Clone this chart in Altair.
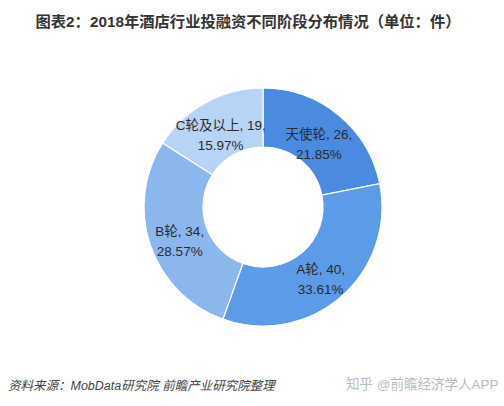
import altair as alt
import pandas as pd

categories = ["天使轮", "A轮", "B轮", "C轮及以上"]
values = [26, 40, 34, 19]
percents = ["21.85%", "33.61%", "28.57%", "15.97%"]
colors = ["#4a8ae0", "#5c9be7", "#8bb6ee", "#b7d3f5"]

df = pd.DataFrame({
    "cat": categories,
    "val": values,
    "order": list(range(len(categories))),
    "label": [[f"{c}, {v},", p] for c, v, p in zip(categories, values, percents)],
})

FONT = "Liberation Sans, Noto Sans CJK SC, sans-serif"
CX, CY = 263, 207

base = alt.Chart(df).encode(
    theta=alt.Theta("val:Q", stack=True),
    order=alt.Order("order:Q"),
)

arcs = base.mark_arc(outerRadius=119, innerRadius=60, stroke="white", strokeWidth=1.2).encode(
    color=alt.Color("cat:N", scale=alt.Scale(domain=categories, range=colors), legend=None),
    x=alt.value(CX), y=alt.value(CY),
)

labels = base.mark_text(radius=88, dy=-4, font=FONT, fontSize=13.5, color="#2b2b2b", lineHeight=20).encode(
    text="label",
    x=alt.value(CX), y=alt.value(CY),
)

title = alt.Chart(pd.DataFrame({"t": ["图表2：2018年酒店行业投融资不同阶段分布情况（单位：件）"]})).mark_text(
    font=FONT, fontSize=15.3, fontWeight="bold", color="#333333", align="center", baseline="middle"
).encode(text="t:N", x=alt.value(248), y=alt.value(22))

footer = alt.Chart(pd.DataFrame({"t": ["资料来源：MobData研究院  前瞻产业研究院整理"]})).mark_text(
    font=FONT, fontSize=12.5, fontStyle="italic", color="#444444", align="left", baseline="middle"
).encode(text="t:N", x=alt.value(8), y=alt.value(386))

mark = alt.Chart(pd.DataFrame({"t": ["知乎 @前瞻经济学人APP"]})).mark_text(
    font=FONT, fontSize=13.5, color="#bbbbbb", align="left", baseline="middle"
).encode(text="t:N", x=alt.value(346), y=alt.value(385))

chart = alt.layer(arcs, labels, title, footer, mark).properties(
    width=504, height=406,
    autosize=alt.AutoSizeParams(type="none"),
    padding=0,
    background="white",
).configure_view(stroke=None)

chart.save("out.html", embed_options={"renderer": "svg", "actions": False})
